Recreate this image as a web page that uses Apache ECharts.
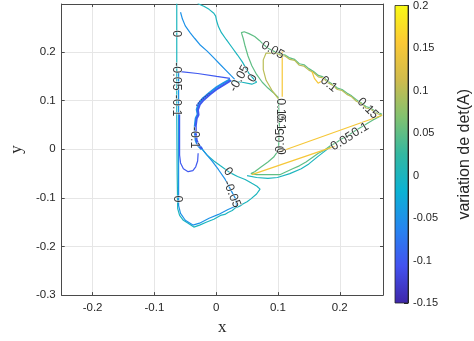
<!DOCTYPE html>
<html>
<head>
<meta charset="utf-8">
<script src="https://cdn.jsdelivr.net/npm/echarts@6/dist/echarts.min.js"></script>
<style>
html,body{margin:0;padding:0;background:#fff;}
#c{width:474px;height:341px;}
</style>
</head>
<body>
<div id="c"></div>
<script>
// Axis ticks and labels
const xTicks = [-0.2, -0.1, 0, 0.1, 0.2];
const xTickLabels = ['-0.2', '-0.1', '0', '0.1', '0.2'];
const yTicks = [-0.3, -0.2, -0.1, 0, 0.1, 0.2];
const yTickLabels = ['-0.3', '-0.2', '-0.1', '0', '0.1', '0.2'];
const cbTicks = [-0.15, -0.1, -0.05, 0, 0.05, 0.1, 0.15, 0.2];
const cbTickLabels = ['-0.15', '-0.1', '-0.05', '0', '0.05', '0.1', '0.15', '0.2'];
const xRange = [-0.25, 0.27];
const yRange = [-0.3, 0.299];
const cbRange = [-0.15, 0.2];

// Contour paths of det(A) variation, [x, y]
const zeroLeft = [[-0.0638,0.300],[-0.0638,0.188],[-0.0638,0.068],[-0.0631,-0.052],[-0.0623,-0.122],[-0.0592,-0.136],[-0.0531,-0.146],[-0.0454,-0.152],[-0.0362,-0.160],[-0.0269,-0.156],[-0.0162,-0.150],[-0.0038,-0.144],[0.0069,-0.136],[0.0140,-0.134],[0.0192,-0.130],[0.0260,-0.126],[0.0315,-0.120],[0.0380,-0.117],[0.0438,-0.112],[0.0500,-0.108],[0.0562,-0.102],[0.0654,-0.092],[0.0710,-0.082],[0.0660,-0.076],[0.0577,-0.070],[0.0469,-0.062],[0.0346,-0.056],[0.0223,-0.048],[0.0069,-0.034],[-0.0038,-0.024],[-0.0146,-0.012],[-0.0223,0.000],[-0.0285,0.012]];
const zeroTop = [[-0.0300,0.300],[-0.0192,0.294],[-0.0115,0.288],[-0.0038,0.280],[-0.0008,0.274],[0.0008,0.264],[0.0038,0.252],[0.0085,0.240],[0.0162,0.226],[0.0254,0.210],[0.0346,0.194],[0.0423,0.180],[0.0485,0.166],[0.0531,0.156],[0.0654,0.138],[0.0685,0.134],[0.0577,0.134],[0.0423,0.138],[0.0269,0.140],[0.0192,0.142]];
const zeroLower = [[0.0500,-0.054],[0.0654,-0.058],[0.0838,-0.060],[0.0992,-0.058],[0.1192,-0.050],[0.1377,-0.040],[0.1500,-0.030],[0.1654,-0.014],[0.1838,0.004]];
const minusFiveLoop = [[-0.0608,0.158],[-0.0608,0.068],[-0.0608,-0.052],[-0.0608,-0.116],[-0.0577,-0.132],[-0.0500,-0.146],[-0.0377,-0.156],[-0.0269,-0.152],[-0.0115,-0.142],[0.0038,-0.134],[0.0192,-0.124],[0.0331,-0.116],[0.0315,-0.102],[0.0238,-0.084],[0.0146,-0.062],[0.0038,-0.042],[-0.0069,-0.024],[-0.0162,-0.010],[-0.0238,0.002],[-0.0285,0.012]];
const minusFiveArc = [[-0.0577,0.282],[-0.0546,0.268],[-0.0500,0.254],[-0.0423,0.240],[-0.0346,0.228],[-0.0254,0.214],[-0.0146,0.202],[-0.0038,0.188],[0.0069,0.174],[0.0162,0.162],[0.0238,0.152],[0.0300,0.144]];
const ring = [[0.0223,0.144],[0.0115,0.136],[0.0008,0.128],[-0.0115,0.116],[-0.0223,0.104],[-0.0285,0.094],[-0.0315,0.082],[-0.0300,0.072],[-0.0331,0.064],[-0.0346,0.048],[-0.0346,0.034],[-0.0331,0.018],[-0.0300,0.008],[-0.0238,0.000]];
const ringInner = [[0.0240,0.142],[0.0130,0.133],[0.0025,0.125],[-0.0100,0.113],[-0.0205,0.101],[-0.0265,0.092],[-0.0295,0.081],[-0.0285,0.071],[-0.0315,0.063],[-0.0330,0.048],[-0.0330,0.034],[-0.0315,0.019],[-0.0285,0.009],[-0.0225,0.001]];
const minusTenBar = [[-0.0577,0.160],[-0.0300,0.156],[0.0008,0.150],[0.0223,0.146]];
const minusTenArc = [[-0.0592,0.072],[-0.0592,0.028],[-0.0592,-0.012],[-0.0577,-0.028],[-0.0531,-0.040],[-0.0454,-0.046],[-0.0377,-0.044],[-0.0331,-0.036],[-0.0300,-0.024],[-0.0292,-0.008]];
const minusFifteenDots = [[-0.0320,0.090],[-0.0260,0.100],[-0.0180,0.108],[-0.0100,0.116]];
const fiveTop = [[0.1008,0.106],[0.0931,0.116],[0.0838,0.126],[0.0746,0.138],[0.0654,0.154],[0.0577,0.172],[0.0515,0.192],[0.0469,0.212],[0.0438,0.228],[0.0408,0.240],[0.0454,0.242],[0.0531,0.238],[0.0623,0.232],[0.0700,0.224],[0.0762,0.216],[0.0838,0.208],[0.0962,0.200],[0.1054,0.196],[0.1115,0.194],[0.1192,0.188],[0.1270,0.185],[0.1346,0.176],[0.1423,0.174],[0.1500,0.166],[0.1577,0.160],[0.1654,0.152],[0.1731,0.149],[0.1808,0.140],[0.1885,0.134],[0.1962,0.126],[0.2038,0.123],[0.2115,0.116],[0.2192,0.110],[0.2269,0.102],[0.2346,0.096],[0.2423,0.088],[0.2500,0.085],[0.2577,0.078],[0.2685,0.072]];
const fiveStem = [[0.1008,0.104],[0.1015,0.075],[0.1023,0.048],[0.1015,0.020],[0.1008,-0.004]];
const fiveLower = [[0.1008,-0.002],[0.0931,-0.016],[0.0838,-0.026],[0.0731,-0.036],[0.0623,-0.046],[0.0562,-0.050],[0.0654,-0.052],[0.0838,-0.052],[0.1038,-0.052],[0.1238,-0.040],[0.1346,-0.034],[0.1454,-0.026],[0.1654,-0.008],[0.1750,-0.002],[0.1854,0.008],[0.1946,0.014],[0.2038,0.022],[0.2131,0.028],[0.2223,0.036],[0.2377,0.048],[0.2531,0.060],[0.2685,0.070]];
const tenTop = [[0.1008,0.104],[0.0900,0.122],[0.0808,0.142],[0.0762,0.164],[0.0762,0.184],[0.0808,0.198],[0.0962,0.198],[0.1054,0.193],[0.1115,0.192],[0.1192,0.185],[0.1270,0.183],[0.1346,0.173],[0.1423,0.171],[0.1500,0.163],[0.1577,0.158],[0.1654,0.149],[0.1731,0.147],[0.1808,0.137],[0.1885,0.132],[0.1962,0.123],[0.2038,0.121],[0.2115,0.113],[0.2192,0.108],[0.2269,0.099],[0.2346,0.094],[0.2423,0.085],[0.2500,0.083],[0.2577,0.075],[0.2685,0.070]];
const fifteenStem = [[0.1069,0.202],[0.1069,0.150],[0.1069,0.108]];
const fifteenBump = [[0.1550,0.160],[0.1590,0.146],[0.1650,0.136],[0.1730,0.142],[0.1731,0.149]];
const fifteenDiag = [[0.1008,-0.006],[0.2685,0.070]];
const fifteenLow = [[0.0577,-0.052],[0.1915,0.006]];

// level of each path
const contourPaths = [
  {level: 0, path: zeroLeft},
  {level: 0, path: zeroTop},
  {level: 0, path: zeroLower},
  {level: -0.05, path: minusFiveLoop},
  {level: -0.05, path: minusFiveArc},
  {level: -0.05, path: ring, wide: true},
  {level: -0.1, path: ringInner, wide: true},
  {level: -0.1, path: minusTenBar},
  {level: -0.1, path: minusTenArc},
  {level: -0.15, path: minusFifteenDots, dotted: true},
  {level: 0.05, path: fiveTop},
  {level: 0.05, path: fiveStem},
  {level: 0.05, path: fiveLower},
  {level: 0.1, path: tenTop},
  {level: 0.15, path: fifteenStem},
  {level: 0.15, path: fifteenBump},
  {level: 0.15, path: fifteenDiag},
  {level: 0.15, path: fifteenLow}
];

// contour labels: x, y, text
const labelSpots = [
  [-0.0638, 0.238, '0'],
  [-0.0638, 0.150, '-0.05'],
  [-0.0638, 0.090, '-0.1'],
  [-0.0623, -0.102, '0'],
  [-0.0346, 0.024, '-0.1'],
  [0.0377, 0.146, '-0.05'],
  [0.0592, 0.146, '0'],
  [0.0192, -0.046, '0'],
  [0.0254, -0.092, '-0.05'],
  [0.0915, 0.204, '0.05'],
  [0.1823, 0.134, '0.1'],
  [0.2454, 0.084, '0.15'],
  [0.2038, 0.016, '0.05'],
  [0.2331, 0.040, '0.1'],
  [0.1038, 0.080, '0.15'],
  [0.1038, 0.056, '0.1'],
  [0.1038, 0.018, '0.05'],
  [0.1038, -0.004, '0']
];
const labelAngles = [-90, -90, -90, -90, -90, 61, 61, -50, -68, -29, -38, -45, 31, 31, -90, -90, 90, -90];

// parula-like colormap
const parulaStops = ['#3e26a8','#4352f0','#2685f0','#0bb2d4','#33b8a1','#82c270','#d0bb4d','#fcc935','#f9fa14'];
function hexRgb(h){return [parseInt(h.substr(1,2),16),parseInt(h.substr(3,2),16),parseInt(h.substr(5,2),16)];}
function parula(t){
  t = Math.max(0, Math.min(1, t));
  const n = parulaStops.length - 1;
  const i = Math.min(n - 1, Math.floor(t * n));
  const f = t * n - i;
  const a = hexRgb(parulaStops[i]), b = hexRgb(parulaStops[i + 1]);
  const c = a.map((v, k) => Math.round(v + (b[k] - v) * f));
  return 'rgb(' + c.join(',') + ')';
}
function levelColor(v){return parula((v - cbRange[0]) / (cbRange[1] - cbRange[0]));}

function tickText(v, ticks, texts){
  for (let i = 0; i < ticks.length; i++) {
    if (Math.abs(v - ticks[i]) < 1e-6) return texts[i];
  }
  return '';
}

const axisColor = '#4a4a4a';
const textColor = '#262626';
const sansFont = '"Liberation Sans", Arial, sans-serif';
const serifFont = '"Liberation Serif", "Times New Roman", serif';

const series = contourPaths.map(c => ({
  type: 'line',
  xAxisIndex: 0, yAxisIndex: 0,
  data: c.path,
  showSymbol: false,
  symbol: 'none',
  silent: true,
  animation: false,
  clip: true,
  lineStyle: {
    color: levelColor(c.level),
    width: c.wide ? 2 : 1.2,
    type: c.dotted ? 'dotted' : 'solid'
  },
  z: 3
}));

series.push({
  type: 'scatter',
  xAxisIndex: 0, yAxisIndex: 0,
  symbol: 'circle',
  symbolSize: 1,
  itemStyle: {color: 'rgba(255,255,255,0)'},
  animation: false,
  silent: true,
  z: 5,
  data: labelSpots.map((s, i) => ({
    value: [s[0], s[1]],
    label: {formatter: s[2], rotate: labelAngles[i]}
  })),
  label: {
    show: true,
    position: 'inside',
    color: '#000',
    fontSize: 12.5,
    fontFamily: sansFont,
    textBorderColor: '#fff',
    textBorderWidth: 1
  },
  labelLayout: {hideOverlap: false}
});

// colorbar strip
series.push({
  type: 'custom',
  xAxisIndex: 1, yAxisIndex: 1,
  silent: true,
  animation: false,
  data: [[0, cbRange[0], 1, cbRange[1]]],
  renderItem: function (params, api) {
    const p0 = api.coord([api.value(0), api.value(1)]);
    const p1 = api.coord([api.value(2), api.value(3)]);
    const n = parulaStops.length - 1;
    const stops = parulaStops.map((c, i) => ({offset: 1 - i / n, color: c})).reverse();
    return {
      type: 'rect',
      shape: {x: p0[0], y: p1[1], width: p1[0] - p0[0], height: p0[1] - p1[1]},
      style: {
        fill: new echarts.graphic.LinearGradient(0, 0, 0, 1, stops),
        stroke: '#262626',
        lineWidth: 0.8
      }
    };
  }
});

const chart = echarts.init(document.getElementById('c'), null, {renderer: 'canvas'});
chart.setOption({
  animation: false,
  backgroundColor: '#fff',
  grid: [
    {left: 45, top: 4, width: 338, height: 300, containLabel: false},
    {left: 395, top: 4, width: 23, height: 299, containLabel: false}
  ],
  xAxis: [
    {
      gridIndex: 0, type: 'value', min: xRange[0], max: xRange[1],
      minInterval: 0.1, maxInterval: 0.1,
      axisLine: {show: true, onZero: false, lineStyle: {color: axisColor, width: 1}},
      axisTick: {show: true, inside: true, length: 3, lineStyle: {color: axisColor}},
      axisLabel: {
        color: textColor, fontSize: 11.5, fontFamily: sansFont, margin: 7,
        formatter: v => tickText(v, xTicks, xTickLabels)
      },
      splitLine: {show: true, lineStyle: {color: '#e6e6e6', width: 1}},
      name: 'x', nameLocation: 'middle', nameGap: 15,
      nameTextStyle: {color: textColor, fontSize: 17, fontFamily: serifFont}
    },
    {gridIndex: 1, type: 'value', min: 0, max: 1, show: false},
    {
      gridIndex: 0, type: 'value', position: 'top', min: xRange[0], max: xRange[1],
      minInterval: 0.1, maxInterval: 0.1,
      axisLine: {show: true, onZero: false, lineStyle: {color: axisColor, width: 1}},
      axisTick: {show: true, inside: true, length: 3, lineStyle: {color: axisColor}},
      axisLabel: {show: false}, splitLine: {show: false}
    }
  ],
  yAxis: [
    {
      gridIndex: 0, type: 'value', min: yRange[0], max: yRange[1], interval: 0.1,
      axisLine: {show: true, onZero: false, lineStyle: {color: axisColor, width: 1}},
      axisTick: {show: true, inside: true, length: 3, lineStyle: {color: axisColor}},
      axisLabel: {
        color: textColor, fontSize: 11.5, fontFamily: sansFont, margin: 6,
        formatter: v => tickText(v, yTicks, yTickLabels)
      },
      splitLine: {show: true, lineStyle: {color: '#e6e6e6', width: 1}},
      name: 'y', nameLocation: 'middle', nameGap: 28, nameRotate: 90,
      nameTextStyle: {color: textColor, fontSize: 17, fontFamily: serifFont}
    },
    {
      gridIndex: 1, type: 'value', position: 'right', min: cbRange[0], max: cbRange[1], interval: 0.05,
      axisLine: {show: true, onZero: false, lineStyle: {color: '#262626', width: 1}},
      axisTick: {show: true, inside: true, length: 4, lineStyle: {color: '#262626'}},
      axisLabel: {
        color: textColor, fontSize: 11, fontFamily: sansFont, margin: 5,
        formatter: v => tickText(v, cbTicks, cbTickLabels)
      },
      splitLine: {show: false},
      name: 'variation de det(A)', nameLocation: 'middle', nameGap: 49, nameRotate: 90,
      nameTextStyle: {color: textColor, fontSize: 16, fontFamily: sansFont}
    },
    {
      gridIndex: 0, type: 'value', position: 'right', min: yRange[0], max: yRange[1], interval: 0.1,
      axisLine: {show: true, onZero: false, lineStyle: {color: axisColor, width: 1}},
      axisTick: {show: true, inside: true, length: 3, lineStyle: {color: axisColor}},
      axisLabel: {show: false}, splitLine: {show: false}
    }
  ],
  series: series
});
</script>
</body>
</html>
